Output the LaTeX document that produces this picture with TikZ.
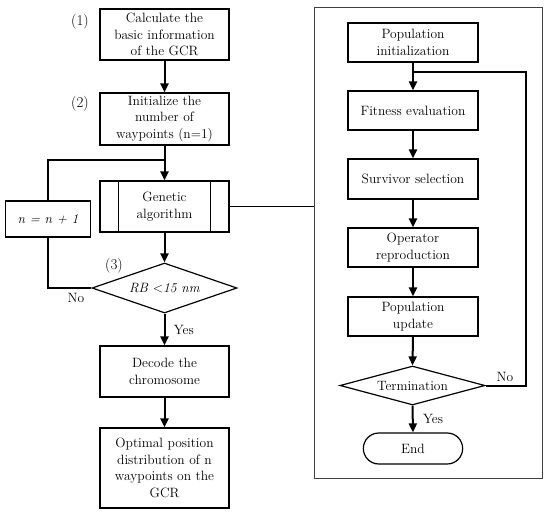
\documentclass[tikz,border=0pt]{standalone}
\usetikzlibrary{arrows.meta,shapes.geometric,shapes.misc}
\begin{document}
\begin{tikzpicture}[x=1pt,y=-1pt,
  every node/.style={font=\fontsize{13.5}{16.5}\selectfont},
  box/.style={draw,line width=1.2pt,minimum width=129pt,inner sep=1pt,align=center,text width=127pt},
  rbox/.style={draw,line width=1.2pt,minimum width=130pt,minimum height=39pt,inner sep=1pt,align=center,text width=128pt},
  dia/.style={draw,line width=1.2pt,shape=diamond,inner sep=0pt},
  arr/.style={line width=2pt,-{Triangle[length=9pt,width=8pt]}},
  lin/.style={line width=2pt},
  lbl/.style={font=\fontsize{13.5}{16}\selectfont}]
\useasboundingbox (0,0) rectangle (550,515);
% left column
\node[box,minimum height=51pt] (b1) at (164.5,34.5) {Calculate the\\ basic information\\ of the GCR};
\node[box,minimum height=52pt] (b2) at (164.5,119) {Initialize the\\ number of\\ waypoints (n=1)};
\node[box,minimum height=51pt] (ga) at (164.5,206.5) {Genetic\\ algorithm};
\draw[line width=1.2pt] (ga.north west) ++(19,0) -- ++(0,51);
\draw[line width=1.2pt] (ga.north east) ++(-19,0) -- ++(0,51);
\node[draw,line width=1.2pt,minimum width=85pt,minimum height=36pt] (nb) at (48,219) {\textit{n = n + 1}};
\node[dia,aspect=2.9,minimum width=145pt,minimum height=50pt] (d1) at (164.5,288) {\textit{RB} <\textit{15 nm}};
\node[box,minimum height=51pt] (dec) at (164.5,371.5) {Decode the\\ chromosome};
\node[box,minimum height=80pt] (opt) at (164.5,468) {Optimal position\\ distribution of n\\ waypoints on the\\ GCR};
\node[lbl,font=\fontsize{15}{17}\selectfont] (l1) at (80,22) {(1)};
\node[lbl,font=\fontsize{15}{17}\selectfont] (l2) at (80,104) {(2)};
\node[lbl,font=\fontsize{15}{17}\selectfont] (l3) at (114,266) {(3)};
\coordinate (sp) at (164.5,160);
\draw[arr] (b1.south) -- (b2.north);
\draw[lin] (b2.south) -- (sp);
\draw[arr] (sp) -- (ga.north);
\draw[lin] (sp) -| (nb.north);
\draw[arr] (ga.south) -- (d1.north);
\draw[lin] (nb.south) |- (d1.west);
\node[lbl] (no1) at (76,298) {No};
\draw[arr] (d1.south) -- (dec.north) node[lbl,midway,right=5pt] (yes1) {Yes};
\draw[arr] (dec.south) -- (opt.north);
% right frame
\node[draw,line width=0.8pt,draw=black!75,minimum width=228pt,minimum height=471pt,inner sep=0pt] (fr) at (428,242.5) {};
\draw[line width=0.8pt] (ga.east) -- (ga.east -| fr.west);
\node[rbox] (pi) at (413,42.5) {Population\\ initialization};
\node[rbox] (fe) at (413,110.5) {Fitness evaluation};
\node[rbox,minimum height=40pt] (ss) at (413,179) {Survivor selection};
\node[rbox] (op) at (413,247.5) {Operator\\ reproduction};
\node[rbox] (pu) at (413,316.5) {Population\\ update};
\node[dia,aspect=3.7,minimum width=145pt,minimum height=39pt] (te) at (412.5,385.5) {Termination};
\node[draw,line width=1.2pt,rounded rectangle,minimum width=106pt,minimum height=31pt] (en) at (413,448.5) {End};
\coordinate (tr) at (526,72);
\draw[arr] (pi.south) -- (fe.north);
\draw[lin] (te.east) -| (tr) -- (tr -| pi.south);
\node[lbl] (no2) at (505,377) {No};
\draw[arr] (fe.south) -- (ss.north);
\draw[arr] (ss.south) -- (op.north);
\draw[arr] (op.south) -- (pu.north);
\draw[arr] (pu.south) -- (te.north);
\draw[arr] (te.south) -- (en.north) node[lbl,midway,right=6pt] (yes2) {Yes};
\end{tikzpicture}
\end{document}
